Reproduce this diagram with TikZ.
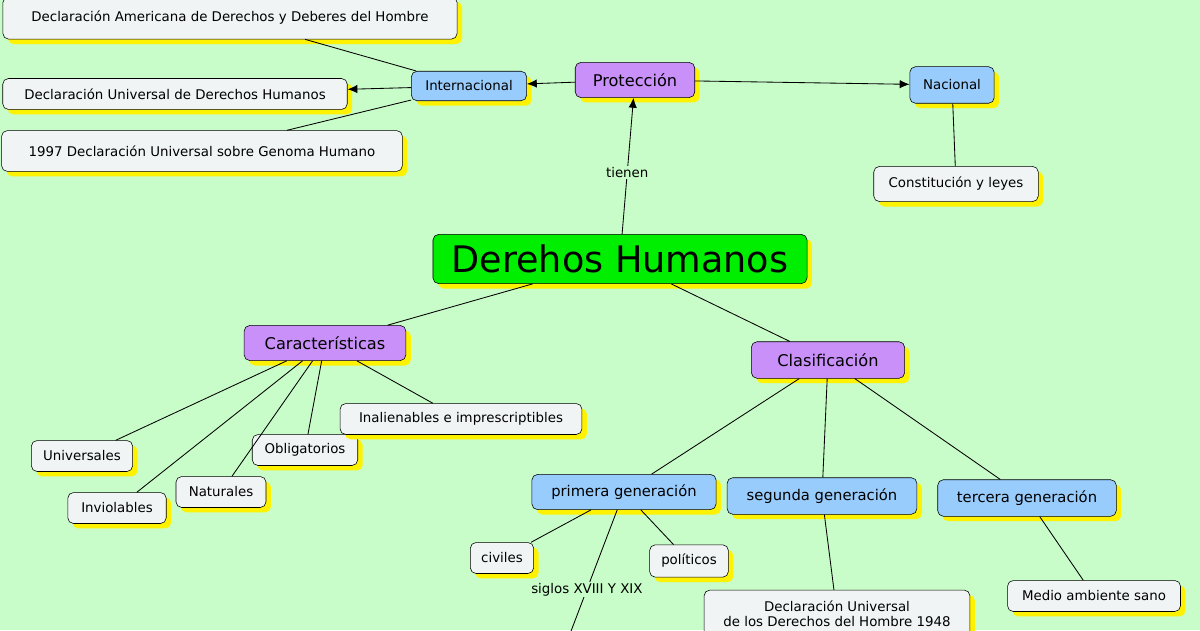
\documentclass[tikz,border=0pt]{standalone}
\usepackage{fontspec}
\setmainfont{DejaVu Sans}
\usetikzlibrary{arrows.meta,shadows,positioning}
\definecolor{bg}{HTML}{C8FCC8}
\definecolor{leaf}{HTML}{F0F4F4}
\definecolor{purp}{HTML}{C890F8}
\definecolor{azul}{HTML}{98CCFC}
\definecolor{verde}{HTML}{00EE00}
\tikzset{
  box/.style={draw=black, rounded corners=4pt, fill=leaf, font=\fontsize{9.5}{11}\selectfont,
    inner xsep=6pt, minimum height=22pt,
    drop shadow={shadow xshift=3.5pt, shadow yshift=-3.5pt, fill=yellow, opacity=1}},
  morado/.style={box, fill=purp, font=\fontsize{11.5}{13}\selectfont, minimum height=25pt},
  celeste/.style={box, fill=azul, font=\fontsize{10.5}{12}\selectfont, minimum height=25pt},
  link/.style={draw, line width=0.6pt},
  flecha/.style={link, -{Latex[length=7pt,width=6pt]}}
}
\begin{document}
\begin{tikzpicture}[x=0.025cm, y=-0.025cm]
  \fill[bg] (0,0) rectangle (1200,630);
  \clip (0,0) rectangle (1200,630);
  % centro
  \node[box, fill=verde, font=\fontsize{26}{30}\selectfont, minimum height=35pt, minimum width=266pt] (dh) at (620,259) {Derehos Humanos};
  % proteccion
  \node[morado, minimum width=85pt] (prot) at (635,80) {Protección};
  \node[celeste, font=\fontsize{9.5}{11}\selectfont, minimum width=82pt, minimum height=21pt] (inter) at (469,86) {Internacional};
  \node[celeste, font=\fontsize{9.5}{11}\selectfont, minimum width=60pt, minimum height=26pt] (nac) at (952,85) {Nacional};
  \node[box, minimum width=323pt, minimum height=30pt] (amer) at (230,18) {Declaración Americana de Derechos y Deberes del Hombre};
  \node[box, minimum width=245pt] (dudh) at (175,94) {Declaración Universal de Derechos Humanos};
  \node[box, minimum width=285pt, minimum height=29pt] (genoma) at (202,151) {1997 Declaración Universal sobre Genoma Humano};
  \node[box, minimum width=117pt, minimum height=25pt] (const) at (956,184) {Constitución y leyes};
  % caracteristicas
  \node[morado, minimum width=115pt] (car) at (325,343) {Características};
  \node[box, minimum width=72pt] (univ) at (82,456) {Universales};
  \node[box, minimum width=70pt] (inv) at (117,508) {Inviolables};
  \node[box, minimum width=64pt] (nat) at (221,492) {Naturales};
  \node[box, minimum width=75pt] (oblig) at (305,450) {Obligatorios};
  \node[box, minimum width=172pt] (inal) at (461,419) {Inalienables e imprescriptibles};
  % clasificacion
  \node[morado, minimum width=109pt, minimum height=26pt] (clas) at (828,360) {Clasificación};
  \node[celeste, minimum width=131pt] (gen1) at (624,492) {primera generación};
  \node[celeste, minimum width=135pt, minimum height=26pt] (gen2) at (822,496) {segunda generación};
  \node[celeste, minimum width=127pt, minimum height=26pt] (gen3) at (1027,498) {tercera generación};
  \node[box, minimum width=45pt] (civ) at (502,558) {civiles};
  \node[box, minimum width=56pt, minimum height=23pt] (pol) at (689,561) {políticos};
  \node[box, minimum width=189pt, minimum height=34pt, align=center] (dudh48) at (837,614) {Declaración Universal\\de los Derechos del Hombre 1948};
  \node[box, minimum width=123pt] (medio) at (1094,596) {Medio ambiente sano};
  \coordinate (abajo) at (560,660);
  % conectores
  \draw[flecha] (dh) -- node[pos=0.45, fill=bg, font=\fontsize{9.5}{11}\selectfont, inner sep=1pt] {tienen} (prot);
  \draw[flecha] (prot) -- (inter);
  \draw[flecha] (prot) -- (nac);
  \draw[flecha] (inter) -- (dudh);
  \draw[link] (inter) -- (amer);
  \draw[link] (inter) -- (genoma);
  \draw[link] (nac) -- (const);
  \draw[link] (dh) -- (car);
  \draw[link] (dh) -- (clas);
  \foreach \n in {univ,inv,nat,oblig,inal}
    \draw[link] (car) -- (\n);
  \foreach \n in {gen1,gen2,gen3}
    \draw[link] (clas) -- (\n);
  \draw[link] (gen1) -- (civ);
  \draw[link] (gen1) -- (pol);
  \draw[link] (gen1) -- node[pos=0.53, fill=bg, font=\fontsize{9.5}{11}\selectfont, inner sep=1pt] {siglos XVIII Y XIX} (abajo);
  \draw[link] (gen2) -- (dudh48);
  \draw[link] (gen3) -- (medio);
\end{tikzpicture}
\end{document}
